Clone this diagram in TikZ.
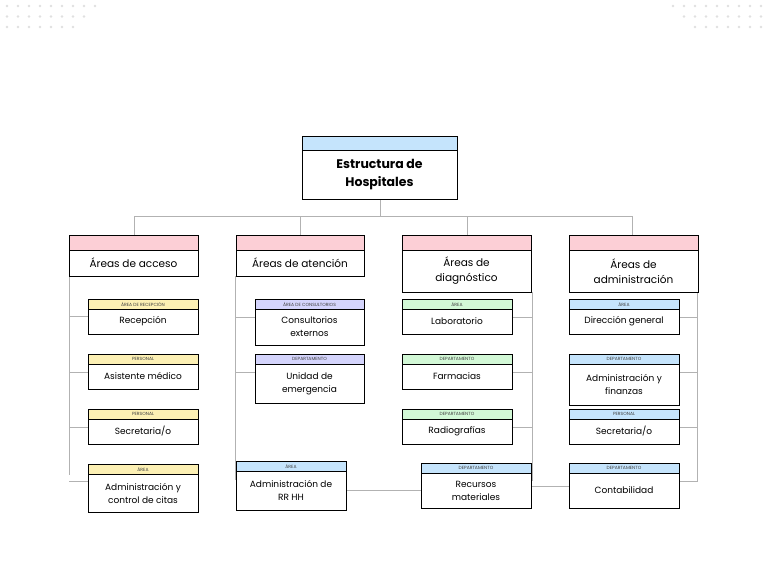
\documentclass[tikz,border=0pt]{standalone}
\usepackage{fontspec}
\setmainfont{Poppins}
\begin{document}
\begin{tikzpicture}[x=1pt,y=-1pt,
 ln/.style={draw=black!30,line width=0.8pt},
 bx/.style={draw=black,line width=0.8pt,fill=white},
 hd/.style={draw=black,line width=0.8pt},
 tag/.style={font=\fontsize{4.5}{5}\selectfont,text=black!75},
 lbl/.style={font=\fontsize{9}{13}\selectfont,align=center},
 hlbl/.style={font=\fontsize{10.5}{15}\selectfont,align=center}]
\useasboundingbox[fill=white] (0,0) rectangle (768,576);
\definecolor{cblue}{HTML}{C5E4FC}
\definecolor{cpink}{HTML}{FCCFD6}
\definecolor{cyel}{HTML}{FCF0B4}
\definecolor{cviol}{HTML}{D4D4FC}
\definecolor{cgreen}{HTML}{D2F8D6}
% dots
\foreach \r/\n in {0/9,1/8,2/7}{
 \foreach \i in {1,...,\n}{
  \fill[black!12] ({7+11*(\i-1)},{6+10.5*\r}) circle (1.3);
  \fill[black!12] ({761-11*(\i-1)},{6+10.5*\r}) circle (1.3);}}
% connectors
\coordinate (r) at (380,199);
\draw[ln] (380,199) -- (380,216);
\draw[ln] (134,216) -- (632,216);
\foreach \x in {134,300,467,632}{\draw[ln] (\x,216) -- (\x,235);}
\draw[ln] (69,276) -- (69,475);
\foreach \y in {316,372,427,481}{\draw[ln] (69,\y) -- (88,\y);}
\draw[ln] (235,276) -- (235,480);
\foreach \y in {317,372}{\draw[ln] (235,\y) -- (255,\y);}
\draw[ln] (532,292) -- (532,481);
\foreach \y in {317,372,427}{\draw[ln] (512,\y) -- (532,\y);}
\draw[ln] (697,292) -- (697,481) -- (679,481);
\foreach \y in {317,372,427}{\draw[ln] (679,\y) -- (697,\y);}
\draw[ln] (346,490) -- (421,490);
\draw[ln] (531,486) -- (569,486);
% macros
\newcommand{\bigbox}[7]{% name x1 y1 x2 y2 color text
 \path[bx] (#2,#3) rectangle (#4,#5);
 \path[hd,fill=#6] (#2,#3) rectangle (#4,{#3+15});
 \node[hlbl] (#1) at ({(#2+#4)/2},{(#3+15+#5)/2}) {#7};}
\newcommand{\smbox}[8]{% name x1 y1 x2 y2 color tag text
 \path[bx] (#2,#3) rectangle (#4,#5);
 \path[hd,fill=#6] (#2,#3) rectangle (#4,{#3+10});
 \node[tag] at ({(#2+#4)/2},{#3+5}) {#7};
 \node[lbl] (#1) at ({(#2+#4)/2},{(#3+10+#5)/2}) {#8};}
% root
\path[bx] (302,136) rectangle (457,199);
\path[hd,fill=cblue] (302,136) rectangle (457,150);
\node[font=\fontsize{12.5}{18}\selectfont\bfseries,align=center] (root) at (379.5,174.5) {Estructura de\\Hospitales};
\bigbox{h1}{69}{235}{198}{276}{cpink}{Áreas de acceso}
\bigbox{h2}{236}{235}{364}{276}{cpink}{Áreas de atención}
\bigbox{h3}{402}{235}{531}{292}{cpink}{Áreas de\\diagnóstico}
\bigbox{h4}{569}{235}{698}{292}{cpink}{Áreas de\\administración}
\smbox{a1}{88}{299}{198}{334}{cyel}{ÁREA DE RECEPCIÓN}{Recepción}
\smbox{a2}{88}{354}{198}{389}{cyel}{PERSONAL}{Asistente médico}
\smbox{a3}{88}{409}{198}{444}{cyel}{PERSONAL}{Secretaria/o}
\smbox{a4}{88}{464}{198}{512}{cyel}{ÁREA}{Administración y\\control de citas}
\smbox{b1}{255}{299}{364}{345}{cviol}{ÁREA DE CONSULTORIOS}{Consultorios\\externos}
\smbox{b2}{255}{354}{364}{403}{cviol}{DEPARTAMENTO}{Unidad de\\emergencia}
\smbox{b3}{236}{461}{346}{510}{cblue}{ÁREA}{Administración de\\RR HH}
\smbox{c1}{402}{299}{512}{334}{cgreen}{ÁREA}{Laboratorio}
\smbox{c2}{402}{354}{512}{389}{cgreen}{DEPARTAMENTO}{Farmacias}
\smbox{c3}{402}{409}{512}{444}{cgreen}{DEPARTAMENTO}{Radiografías}
\smbox{c4}{421}{463}{531}{508}{cblue}{DEPARTAMENTO}{Recursos\\materiales}
\smbox{d1}{569}{299}{679}{334}{cblue}{ÁREA}{Dirección general}
\smbox{d2}{569}{354}{679}{405}{cblue}{DEPARTAMENTO}{Administración y\\finanzas}
\smbox{d3}{569}{409}{679}{444}{cblue}{PERSONAL}{Secretaria/o}
\smbox{d4}{569}{463}{679}{508}{cblue}{DEPARTAMENTO}{Contabilidad}
\end{tikzpicture}
\end{document}
